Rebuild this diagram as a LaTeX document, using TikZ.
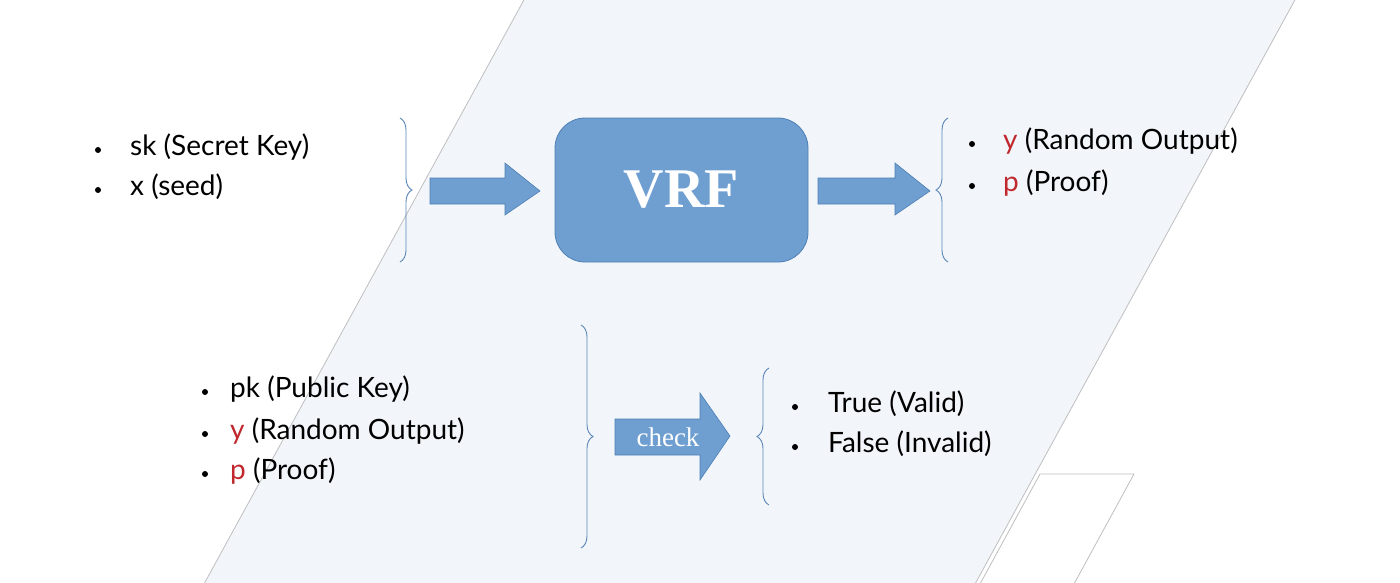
\documentclass[tikz,border=0pt]{standalone}
\usepackage{fontspec}
\setmainfont{Lato}
\newfontfamily\serifx{Liberation Serif}
\usetikzlibrary{decorations.pathreplacing,shapes.arrows}
\definecolor{bg}{HTML}{F2F6FA}
\definecolor{boxfill}{HTML}{6E9FD0}
\definecolor{boxline}{HTML}{4F7FB5}
\definecolor{br}{HTML}{5B86B8}
\definecolor{rd}{HTML}{C0282D}
\begin{document}
\begin{tikzpicture}[x=1pt,y=-1pt,
  item/.style={anchor=west,inner sep=0pt,font=\fontsize{28}{32}\selectfont},
  dot/.style={circle,fill=black,inner sep=0pt,minimum size=6pt},
  brc/.style={draw=br,line width=0.9pt,decorate,decoration={brace,amplitude=12pt}},
  bigarrow/.style={fill=boxfill,draw=boxline,line width=0.6pt}]
\useasboundingbox (0,0) rectangle (1400,582);
\fill[white] (0,0) rectangle (1400,582);
\draw[fill=bg,draw=black!25,line width=0.8pt] (525,-2) -- (1296,-2) -- (975,584) -- (204,584) -- cycle;
\draw[fill=white,draw=black!25,line width=0.8pt] (1040,474) -- (1134,474) -- (1074,584) -- (980,584) -- cycle;
% VRF box
\node[draw=boxline,fill=boxfill,rounded corners=30pt,minimum width=253pt,minimum height=144pt,line width=0.8pt,
  text=white,font=\serifx\bfseries\fontsize{56}{58}\selectfont] (vrf) at (681.5,190) {VRF};
% braces
\coordinate (b1t) at (400,118); \coordinate (b1b) at (400,262);
\draw[brc] (b1t) -- (b1b);
\coordinate (b2t) at (948,118); \coordinate (b2b) at (948,262);
\draw[brc] (b2b) -- (b2t);
\coordinate (b3t) at (581,325); \coordinate (b3b) at (581,548);
\draw[brc] (b3t) -- (b3b);
\coordinate (b4t) at (769,368); \coordinate (b4b) at (769,505);
\draw[brc] (b4b) -- (b4t);
% arrows
\draw[bigarrow] (430,178) -- (505,178) -- (505,163) -- (540,191) -- (505,215) -- (505,204) -- (430,204) -- cycle;
\draw[bigarrow] (818,178) -- (895,178) -- (895,163) -- (930,191) -- (895,215) -- (895,204) -- (818,204) -- cycle;
\draw[bigarrow] (615,419) -- (700,419) -- (700,393) -- (730,436) -- (700,480) -- (700,455) -- (615,455) -- cycle;
\node[text=white,font=\serifx\fontsize{27}{29}\selectfont,inner sep=0pt] (chk) at (668,437) {check};
% lists
\node[dot] (d1) at (98,150) {}; \node[item] (t1) at (130,147) {sk (Secret Key)};
\node[dot] (d2) at (98,190) {}; \node[item] (t2) at (130,187) {x (seed)};
\node[dot] (d3) at (972,144) {}; \node[item] (t3) at (1003,141) {\textcolor{rd}{y} (Random Output)};
\node[dot] (d4) at (972,186) {}; \node[item] (t4) at (1003,183) {\textcolor{rd}{p} (Proof)};
\node[dot] (d5) at (205,392) {}; \node[item] (t5) at (230,389) {pk (Public Key)};
\node[dot] (d6) at (205,434) {}; \node[item] (t6) at (230,431) {\textcolor{rd}{y} (Random Output)};
\node[dot] (d7) at (205,474) {}; \node[item] (t7) at (230,471) {\textcolor{rd}{p} (Proof)};
\node[dot] (d8) at (795,407) {}; \node[item] (t8) at (828,404) {True (Valid)};
\node[dot] (d9) at (795,447) {}; \node[item] (t9) at (828,444) {False (Invalid)};
\end{tikzpicture}
\end{document}
